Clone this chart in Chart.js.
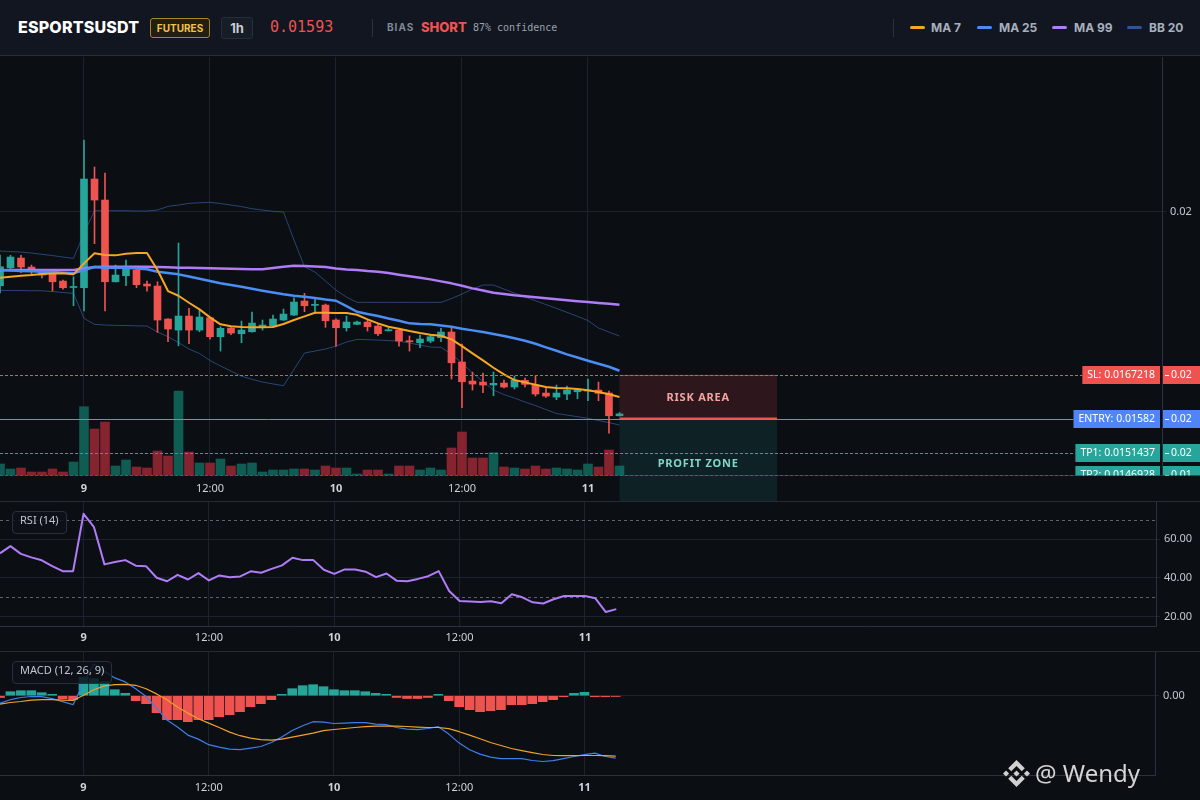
<!DOCTYPE html>
<html>
<head>
<meta charset="utf-8">
<script src="https://cdn.jsdelivr.net/npm/chart.js@4.4.1/dist/chart.umd.min.js"></script>
<style>
  html, body { margin:0; padding:0; width:1200px; height:800px; overflow:hidden; background:#0b0e13; font-family: Inter, 'Noto Sans', sans-serif; }
  canvas { position:absolute; left:0; }
  #header { position:absolute; left:0; top:0; width:1200px; height:56px; background:#111620; border-bottom:1px solid #262d3a; box-sizing:border-box; z-index:5; }
  .hl { position:absolute; top:0; height:55px; line-height:55px; white-space:nowrap; }
  .vdiv { position:absolute; top:19px; width:1px; height:18px; background:#2a3140; }
  .sw { position:absolute; top:26px; width:15px; height:3px; border-radius:2px; }
  .lg { color:#a6afbd; font-weight:700; font-size:12px; }
  .sep { position:absolute; left:0; width:1200px; height:1px; background:#242b38; z-index:3; }
  .tag { position:absolute; left:12px; height:23px; line-height:21px; padding:0 7px; border:1px solid #283040; border-radius:4px; background:rgba(14,18,25,0.85); color:#bfc5cf; font:11px 'Noto Sans', sans-serif; box-sizing:border-box; z-index:4; white-space:nowrap; }
  #wm { position:absolute; left:1003px; top:760px; height:28px; z-index:6; color:#d4d4d4; }
</style>
</head>
<body>
<div id="header">
  <div class="hl" style="left:18px;font-weight:800;font-size:16px;color:#ffffff;letter-spacing:0.2px;">ESPORTSUSDT</div>
  <div style="position:absolute;left:150px;top:18px;width:60px;height:20px;box-sizing:border-box;border:1px solid #a88526;border-radius:3px;background:#221e12;color:#f3c14b;font-weight:700;font-size:10px;line-height:18px;text-align:center;">FUTURES</div>
  <div style="position:absolute;left:221px;top:17px;width:32px;height:22px;box-sizing:border-box;border:1px solid #262e3b;border-radius:3px;background:#171d27;color:#c8cdd6;font-weight:700;font-size:13px;line-height:20px;text-align:center;">1h</div>
  <div class="hl" style="left:270px;font-family:'DejaVu Sans Mono',monospace;font-size:15px;color:#ef5350;">0.01593</div>
  <div class="vdiv" style="left:372px;"></div>
  <div class="hl" style="left:387px;font-weight:700;font-size:10px;letter-spacing:1px;color:#7f8896;">BIAS</div>
  <div class="hl" style="left:421px;font-weight:800;font-size:13px;color:#ef5350;">SHORT</div>
  <div class="hl" style="left:473px;font-family:'DejaVu Sans Mono',monospace;font-size:10px;color:#9aa1ad;">87% confidence</div>

  <div class="vdiv" style="left:893px;"></div>
  <div class="sw" style="left:910px;background:#f5a623;"></div>
  <div class="hl lg" style="left:931px;">MA 7</div>
  <div class="sw" style="left:977px;background:#4a8ef5;"></div>
  <div class="hl lg" style="left:999px;">MA 25</div>
  <div class="sw" style="left:1052px;background:#b07cf7;"></div>
  <div class="hl lg" style="left:1074px;">MA 99</div>
  <div class="sw" style="left:1127px;background:#2f5597;"></div>
  <div class="hl lg" style="left:1149px;">BB 20</div>
</div>

<canvas id="price" width="1200" height="445" style="top:56px;"></canvas>
<canvas id="rsi" width="1200" height="150" style="top:501px;"></canvas>
<canvas id="macd" width="1200" height="149" style="top:651px;"></canvas>

<div class="sep" style="top:501px;"></div>
<div class="sep" style="top:651px;"></div>
<div class="tag" style="top:511px;">RSI (14)</div>
<div class="tag" style="top:661px;">MACD (12, 26, 9)</div>

<div id="wm">
  <svg style="position:absolute;left:0;top:0;" width="27" height="27" viewBox="0 0 126.61 126.61" fill="#d0d0d0">
    <path d="M38.73 53.2 63.32 28.61 87.93 53.22l14.3-14.31L63.32 0 24.42 38.9z"/>
    <path d="M0 63.31 14.3 49l14.31 14.31-14.31 14.3z"/>
    <path d="M38.73 73.41 63.32 98l24.6-24.6 14.31 14.29-38.91 38.92-38.9-38.9z"/>
    <path d="M98 63.31 112.3 49l14.31 14.3-14.31 14.32z"/>
    <path d="M77.83 63.3 63.32 48.78 48.8 63.3l14.52 14.51z"/>
  </svg>
  <div style="position:absolute;left:32px;top:-2px;font:24px 'Noto Sans',sans-serif;line-height:30px;white-space:nowrap;">@ Wendy</div>
</div>

<script>
// ================= DATA =================
const FIRST_HOUR = -8;   // first visible candle, in hours relative to day 9, 00:00
const timeTickHours = [0, 12, 24, 36, 48];
const timeTickLabels = ['9', '12:00', '10', '12:00', '11'];
const priceTicks = [0.02];
const rsiTicks = [20, 40, 60];
const rsiBands = [30, 70];
const macdTicks = [0];

const candleOpen = [
  0.018508,0.018870,0.019065,0.018884,0.018793,0.018743,0.018602,0.018472,
  0.018468,0.020655,0.020232,0.018588,0.018709,0.018818,0.018542,0.018502,
  0.017838,0.017616,0.017898,0.017616,0.017864,0.017482,0.017657,0.017542,
  0.017582,0.017683,0.017697,0.017818,0.017918,0.018200,0.018113,0.018119,
  0.017818,0.017663,0.017731,0.017777,0.017697,0.017602,0.017616,0.017395,
  0.017361,0.017395,0.017461,0.017576,0.016973,0.016590,0.016570,0.016510,
  0.016550,0.016470,0.016604,0.016510,0.016349,0.016268,0.016329,0.016375,
  0.016389,0.016409,0.016349,0.015892
];
const candleHigh = [
  0.019125,0.019119,0.019119,0.018924,0.018824,0.018753,0.018622,0.018689,
  0.021439,0.020896,0.020775,0.018924,0.019025,0.018890,0.018602,0.018588,
  0.017848,0.019367,0.018053,0.018019,0.017878,0.017683,0.017667,0.017797,
  0.017979,0.017818,0.017918,0.018039,0.018266,0.018355,0.018234,0.018140,
  0.017844,0.017898,0.017797,0.017818,0.017751,0.017651,0.017630,0.017496,
  0.017516,0.017510,0.017651,0.017651,0.017335,0.016771,0.016751,0.016771,
  0.016610,0.016691,0.016651,0.016691,0.016456,0.016510,0.016490,0.016429,
  0.016631,0.016570,0.016389,0.015956
];
const candleLow = [
  0.018361,0.018850,0.018769,0.018743,0.018663,0.018401,0.018441,0.018105,
  0.017999,0.019353,0.017999,0.018582,0.018508,0.018468,0.018401,0.017570,
  0.017381,0.017300,0.017341,0.017582,0.017435,0.017194,0.017522,0.017361,
  0.017576,0.017616,0.017683,0.017808,0.017908,0.017985,0.017952,0.017671,
  0.017294,0.017596,0.017727,0.017596,0.017502,0.017596,0.017294,0.017194,
  0.017260,0.017361,0.017381,0.016631,0.016053,0.016409,0.016355,0.016294,
  0.016450,0.016429,0.016470,0.016288,0.016262,0.016214,0.016214,0.016234,
  0.016194,0.016194,0.015544,0.015886
];
const candleClose = [
  0.018890,0.019085,0.018884,0.018803,0.018723,0.018588,0.018468,0.018482,
  0.020655,0.020232,0.018588,0.018723,0.018870,0.018528,0.018502,0.017818,
  0.017637,0.017898,0.017616,0.017878,0.017482,0.017651,0.017556,0.017616,
  0.017757,0.017717,0.017838,0.017938,0.018180,0.018105,0.018119,0.017803,
  0.017663,0.017777,0.017777,0.017683,0.017542,0.017616,0.017395,0.017381,
  0.017435,0.017482,0.017576,0.016958,0.016576,0.016530,0.016510,0.016544,
  0.016470,0.016604,0.016524,0.016329,0.016288,0.016349,0.016409,0.016409,
  0.016399,0.016343,0.015892,0.015930
];
const volume = [   // millions
  1.1,0.6,0.7,0.3,0.3,0.6,0.3,1.3,
  6.83,4.6,5.3,0.9,1.5,0.8,0.7,2.4,
  1.9,8.4,2.3,1.2,1.2,1.6,0.9,1.1,
  1.2,0.3,0.5,0.5,0.6,0.6,0.5,0.9,
  0.7,0.7,0.1,0.5,0.5,0.1,0.9,0.9,
  0.5,0.7,0.5,2.7,4.3,1.7,1.7,2.23,
  0.8,0.7,0.6,0.9,0.6,0.7,0.6,0.5,
  1.1,0.8,2.5,0.9
];
const ma7 = [
  0.018669,0.018689,0.018709,0.018723,0.018743,0.018753,0.018757,0.018737,
  0.018958,0.019160,0.019125,0.019119,0.019152,0.019166,0.019166,0.018824,
  0.018401,0.018307,0.018166,0.018033,0.017872,0.017731,0.017691,0.017677,
  0.017671,0.017671,0.017677,0.017737,0.017818,0.017892,0.017964,0.017964,
  0.017958,0.017958,0.017924,0.017832,0.017751,0.017683,0.017643,0.017596,
  0.017556,0.017522,0.017502,0.017429,0.017294,0.017148,0.017007,0.016858,
  0.016725,0.016610,0.016564,0.016516,0.016470,0.016450,0.016443,0.016429,
  0.016403,0.016369,0.016323,0.016268
];
const ma25 = [
  0.018824,0.018814,0.018803,0.018797,0.018789,0.018783,0.018769,0.018757,
  0.018824,0.018884,0.018870,0.018870,0.018870,0.018854,0.018838,0.018789,
  0.018763,0.018737,0.018693,0.018649,0.018602,0.018556,0.018522,0.018488,
  0.018447,0.018407,0.018371,0.018335,0.018307,0.018286,0.018260,0.018230,
  0.018206,0.018099,0.017985,0.017938,0.017898,0.017848,0.017803,0.017751,
  0.017737,0.017731,0.017707,0.017683,0.017643,0.017610,0.017576,0.017536,
  0.017496,0.017450,0.017401,0.017341,0.017268,0.017200,0.017127,0.017063,
  0.016999,0.016938,0.016878,0.016797
];
const ma99 = [
  0.018818,0.018824,0.018824,0.018824,0.018824,0.018824,0.018824,0.018824,
  0.018854,0.018884,0.018890,0.018890,0.018890,0.018890,0.018890,0.018884,
  0.018878,0.018870,0.018870,0.018864,0.018858,0.018854,0.018850,0.018844,
  0.018838,0.018838,0.018864,0.018890,0.018910,0.018904,0.018894,0.018884,
  0.018854,0.018834,0.018824,0.018803,0.018789,0.018763,0.018729,0.018697,
  0.018667,0.018636,0.018596,0.018556,0.018506,0.018455,0.018411,0.018367,
  0.018341,0.018315,0.018294,0.018274,0.018254,0.018234,0.018214,0.018196,
  0.018180,0.018162,0.018144,0.018125
];
const bbUpper = [
  0.019206,0.019196,0.019186,0.019166,0.019140,0.019115,0.019085,0.019059,
  0.019562,0.020017,0.020017,0.020017,0.020017,0.020011,0.020011,0.020031,
  0.020105,0.020131,0.020166,0.020178,0.020186,0.020162,0.020131,0.020101,
  0.020057,0.020031,0.020005,0.019991,0.019427,0.018890,0.018783,0.018602,
  0.018421,0.018280,0.018174,0.018174,0.018174,0.018174,0.018174,0.018174,
  0.018174,0.018174,0.018174,0.018250,0.018341,0.018441,0.018522,0.018522,
  0.018441,0.018361,0.018280,0.018206,0.018129,0.018053,0.017972,0.017892,
  0.017807,0.017657,0.017576,0.017496
];
const bbLower = [
  0.018415,0.018411,0.018411,0.018407,0.018407,0.018391,0.018371,0.018355,
  0.017852,0.017731,0.017717,0.017711,0.017707,0.017701,0.017697,0.017576,
  0.017482,0.017365,0.017234,0.017144,0.017003,0.016894,0.016791,0.016687,
  0.016625,0.016570,0.016532,0.016496,0.016824,0.017154,0.017194,0.017234,
  0.017294,0.017375,0.017429,0.017423,0.017415,0.017405,0.017395,0.017355,
  0.017315,0.017274,0.017268,0.017134,0.016952,0.016751,0.016580,0.016409,
  0.016319,0.016248,0.016168,0.016097,0.016017,0.015936,0.015906,0.015872,
  0.015840,0.015796,0.015755,0.015705
];
const rsi = [
  52.7,56.4,52.4,50.6,49.1,46.1,43.5,43.5,
  73.1,66.2,47.0,48.2,49.2,46.3,46.0,40.1,
  38.3,41.6,39.2,42.5,38.7,41.3,40.3,40.8,
  43.4,42.7,44.7,46.5,50.4,49.2,49.2,44.2,
  42.1,44.4,44.4,43.2,40.4,42.3,38.5,38.3,
  39.5,40.9,43.5,33.3,28.1,27.8,27.6,28.0,
  26.9,31.6,30.0,27.4,26.8,29.0,30.7,30.7,
  30.7,29.5,22.4,23.9
];
const macdLine = [
  -0.000037,-0.000020,-0.000009,-0.000004,-0.000005,-0.000015,-0.000030,-0.000045,
  0.000064,0.000159,0.000122,0.000089,0.000069,0.000035,-0.000004,-0.000062,
  -0.000122,-0.000157,-0.000197,-0.000217,-0.000245,-0.000257,-0.000267,-0.000270,
  -0.000262,-0.000254,-0.000234,-0.000207,-0.000174,-0.000150,-0.000130,-0.000132,
  -0.000139,-0.000137,-0.000135,-0.000135,-0.000142,-0.000145,-0.000159,-0.000167,
  -0.000170,-0.000164,-0.000155,-0.000192,-0.000237,-0.000270,-0.000292,-0.000307,
  -0.000315,-0.000314,-0.000315,-0.000324,-0.000329,-0.000325,-0.000315,-0.000304,
  -0.000295,-0.000287,-0.000304,-0.000312
];
const macdSignal = [
  -0.000042,-0.000034,-0.000029,-0.000022,-0.000020,-0.000020,-0.000022,-0.000024,
  0.000002,0.000030,0.000049,0.000055,0.000057,0.000052,0.000035,0.000009,
  -0.000020,-0.000057,-0.000087,-0.000115,-0.000137,-0.000159,-0.000182,-0.000200,
  -0.000212,-0.000220,-0.000222,-0.000217,-0.000207,-0.000197,-0.000187,-0.000175,
  -0.000169,-0.000164,-0.000159,-0.000155,-0.000152,-0.000152,-0.000152,-0.000154,
  -0.000157,-0.000159,-0.000159,-0.000165,-0.000180,-0.000197,-0.000215,-0.000234,
  -0.000249,-0.000264,-0.000275,-0.000285,-0.000294,-0.000299,-0.000300,-0.000300,
  -0.000299,-0.000299,-0.000300,-0.000302
];
const macdHist = [
  -0.000009,0.000020,0.000025,0.000025,0.000015,0.000007,-0.000015,-0.000020,
  0.000092,0.000085,0.000070,0.000030,0.000012,-0.000025,-0.000040,-0.000085,
  -0.000120,-0.000120,-0.000130,-0.000120,-0.000120,-0.000105,-0.000095,-0.000080,
  -0.000055,-0.000040,-0.000020,0.000007,0.000035,0.000050,0.000055,0.000045,
  0.000030,0.000025,0.000025,0.000020,0.000012,0.000007,-0.000009,-0.000014,
  -0.000014,-0.000009,0.000007,-0.000025,-0.000055,-0.000070,-0.000080,-0.000075,
  -0.000070,-0.000045,-0.000045,-0.000040,-0.000030,-0.000020,-0.000005,0.000012,
  0.000017,-0.000005,-0.000005,-0.000004
];
const levelNames = ['SL', 'ENTRY', 'TP1', 'TP2'];
const levelPrices = [0.0167218, 0.01582, 0.0151437, 0.0146928];

// ================= VIEW / STYLE =================
const X_MIN = -8, X_MAX = 102.67;
const PRICE_MIN = 0.0147, PRICE_MAX = 0.02311;
const VOL_MAX = 41.8;
const RSI_MIN = 15.2, RSI_MAX = 79.7;
const MACD_MIN = -0.0003965, MACD_MAX = 0.0002235;
const ZONE_HOURS = 15;
const UP = '#26a69a', DOWN = '#ef5350';
const VOL_UP = '#0e5c52', VOL_DOWN = '#85232f';
const GRID = '#1b2230', AXIS = '#2a3242';
const levelStyle = [
  { line: '#ef5350', box: '#ef5350', dash: [3, 2] },
  { line: '#5a8ff5', box: '#4f86f7', dash: [] },
  { line: '#26a69a', box: '#26a69a', dash: [3, 2] },
  { line: '#26a69a', box: '#26a69a', dash: [3, 2] }
];

Chart.defaults.font.family = "'Noto Sans','Open Sans',sans-serif";
Chart.defaults.animation = false;
Chart.defaults.plugins.legend.display = false;
Chart.defaults.plugins.tooltip.enabled = false;

const pts = arr => arr.map((v, k) => ({ x: FIRST_HOUR + k, y: v }));
const isUp = candleOpen.map((o, k) => candleClose[k] >= o);
const candleColors = isUp.map(u => u ? UP : DOWN);
const volColors = isUp.map(u => u ? VOL_UP : VOL_DOWN);
const bodies = candleOpen.map((o, k) => ({ x: FIRST_HOUR + k, y: [o, candleClose[k]] }));
const wicks = candleOpen.map((o, k) => ({ x: FIRST_HOUR + k, y: [candleLow[k], candleHigh[k]] }));

function timeAxis(height, pad) {
  return {
    type: 'linear', min: X_MIN, max: X_MAX, offset: false,
    afterBuildTicks: s => { s.ticks = timeTickHours.map(v => ({ value: v })); },
    afterFit: s => { s.height = height; s.paddingLeft = 0; s.paddingRight = 0; },
    ticks: {
      autoSkip: false, maxRotation: 0, padding: pad, color: '#cfd3da',
      callback: (v, i) => timeTickLabels[i],
      font: c => ({ size: 11, weight: timeTickLabels[c.index] === '12:00' ? '400' : '700' })
    },
    grid: { color: GRID, drawTicks: false, offset: false },
    border: { color: AXIS }
  };
}
function valueAxis(min, max, ticks, width, fmt) {
  return {
    position: 'right', min, max,
    afterBuildTicks: s => { s.ticks = ticks.map(v => ({ value: v })); },
    afterFit: s => { s.width = width; s.paddingTop = 0; s.paddingBottom = 0; },
    ticks: { color: '#c3c8d1', font: { size: 11 }, padding: 4, callback: v => fmt(v) },
    grid: { color: GRID, tickLength: 4 },
    border: { color: AXIS }
  };
}

const tradePlugin = {
  id: 'trade',
  afterDatasetsDraw(chart) {
    const { ctx, chartArea: a, scales: { x, y } } = chart;
    const lastHour = FIRST_HOUR + candleOpen.length - 1;
    const x0 = x.getPixelForValue(lastHour), x1 = x.getPixelForValue(lastHour + ZONE_HOURS);
    const ySL = y.getPixelForValue(levelPrices[0]);
    const yEn = y.getPixelForValue(levelPrices[1]);
    const yBot = chart.height;
    ctx.save();
    ctx.fillStyle = 'rgba(239,83,80,0.15)';
    ctx.fillRect(x0, ySL, x1 - x0, yEn - ySL);
    ctx.fillStyle = 'rgba(38,166,154,0.13)';
    ctx.fillRect(x0, yEn, x1 - x0, yBot - yEn);
    ctx.strokeStyle = 'rgba(239,83,80,0.55)'; ctx.lineWidth = 1;
    ctx.beginPath(); ctx.moveTo(x0, Math.round(ySL) + 0.5); ctx.lineTo(x1, Math.round(ySL) + 0.5); ctx.stroke();
    ctx.font = "700 11px 'Noto Sans', sans-serif";
    ctx.textAlign = 'center'; ctx.textBaseline = 'middle';
    try { ctx.letterSpacing = '0.8px'; } catch (e) {}
    ctx.fillStyle = '#f4a3a1';
    ctx.fillText('RISK AREA', (x0 + x1) / 2, (ySL + yEn) / 2 + 1);
    ctx.fillStyle = '#7fd6cb';
    ctx.fillText('PROFIT ZONE', (x0 + x1) / 2, (yEn + yBot) / 2 + 4);
    ctx.restore();

    ctx.save();
    ctx.beginPath(); ctx.rect(0, 0, chart.width, a.bottom + 0.5); ctx.clip();
    ctx.font = "10.5px 'Noto Sans', sans-serif";
    levelPrices.forEach((p, k) => {
      const py = Math.round(y.getPixelForValue(p)) + 0.5;
      const txt = levelNames[k] + ': ' + p;
      const w = ctx.measureText(txt).width + 10;
      const bx = a.right - 2 - w;
      const st = levelStyle[k];
      ctx.strokeStyle = st.line; ctx.lineWidth = 1; ctx.setLineDash(st.dash);
      ctx.beginPath(); ctx.moveTo(a.left, py); ctx.lineTo(bx, py); ctx.stroke();
      ctx.setLineDash([]);
      ctx.fillStyle = st.box;
      ctx.fillRect(bx, py - 9.5, w, 18);
      ctx.fillRect(a.right + 1, py - 9.5, chart.width - a.right - 1, 18);
      ctx.fillStyle = '#ffffff'; ctx.textAlign = 'center'; ctx.textBaseline = 'middle';
      ctx.fillText(txt, bx + w / 2, py);
      ctx.textAlign = 'left';
      ctx.fillText(p.toFixed(2), a.right + 9, py);
      ctx.fillRect(a.right + 3, py - 0.5, 4, 1);
    });
    ctx.restore();

    ctx.save();
    ctx.fillStyle = '#ef5350';
    ctx.fillRect(x0, Math.round(yEn) - 1.5, x1 - x0, 2);
    ctx.restore();
  }
};

const rsiBandPlugin = {
  id: 'rsiBands',
  beforeDatasetsDraw(chart) {
    const { ctx, chartArea: a, scales: { y } } = chart;
    ctx.save();
    ctx.setLineDash([3, 3]);
    ctx.strokeStyle = 'rgba(200,205,215,0.45)';
    ctx.lineWidth = 1;
    rsiBands.forEach(v => {
      const py = Math.round(y.getPixelForValue(v)) + 0.5;
      ctx.beginPath(); ctx.moveTo(a.left, py); ctx.lineTo(a.right, py); ctx.stroke();
    });
    ctx.restore();
  }
};

const lineDs = (data, color, width, order) => ({
  type: 'line', data: pts(data), borderColor: color, borderWidth: width,
  pointRadius: 0, tension: 0, borderJoinStyle: 'round', order
});

new Chart(document.getElementById('price'), {
  type: 'bar',
  data: {
    datasets: [
      lineDs(ma7, '#f5a623', 2, 1),
      lineDs(ma25, '#4a8ef5', 2.5, 2),
      lineDs(ma99, '#b07cf7', 2.5, 3),
      { type: 'bar', data: bodies, backgroundColor: candleColors, barThickness: 7, grouped: false, minBarLength: 1, order: 5 },
      { type: 'bar', data: wicks, backgroundColor: candleColors, barThickness: 1, grouped: false, order: 6 },
      lineDs(bbUpper, 'rgba(52,88,150,0.75)', 1, 8),
      lineDs(bbLower, 'rgba(52,88,150,0.75)', 1, 8),
      { type: 'bar', yAxisID: 'yv', data: pts(volume), backgroundColor: volColors, barThickness: 9, grouped: false, order: 10 }
    ]
  },
  options: {
    responsive: false,
    layout: { padding: { top: 1, left: 0, right: 0, bottom: 0 } },
    scales: {
      x: timeAxis(26, 7),
      y: valueAxis(PRICE_MIN, PRICE_MAX, priceTicks, 38, v => v.toFixed(2)),
      yv: { display: false, min: 0, max: VOL_MAX }
    }
  },
  plugins: [tradePlugin]
});

new Chart(document.getElementById('rsi'), {
  type: 'line',
  data: { datasets: [lineDs(rsi, '#b07cf7', 2, 1)] },
  options: {
    responsive: false,
    layout: { padding: 0 },
    scales: {
      x: timeAxis(25, 5.5),
      y: valueAxis(RSI_MIN, RSI_MAX, rsiTicks, 44, v => v.toFixed(2))
    }
  },
  plugins: [rsiBandPlugin]
});

new Chart(document.getElementById('macd'), {
  type: 'bar',
  data: {
    datasets: [
      lineDs(macdLine, '#3f7fe8', 1.2, 2),
      lineDs(macdSignal, '#f0a22a', 1.2, 1),
      { type: 'bar', data: pts(macdHist), backgroundColor: macdHist.map(v => v >= 0 ? UP : DOWN), barThickness: 9, grouped: false, order: 5 }
    ]
  },
  options: {
    responsive: false,
    layout: { padding: 0 },
    scales: {
      x: timeAxis(25, 6),
      y: valueAxis(MACD_MIN, MACD_MAX, macdTicks, 45, v => v.toFixed(2))
    }
  }
});
</script>
</body>
</html>
